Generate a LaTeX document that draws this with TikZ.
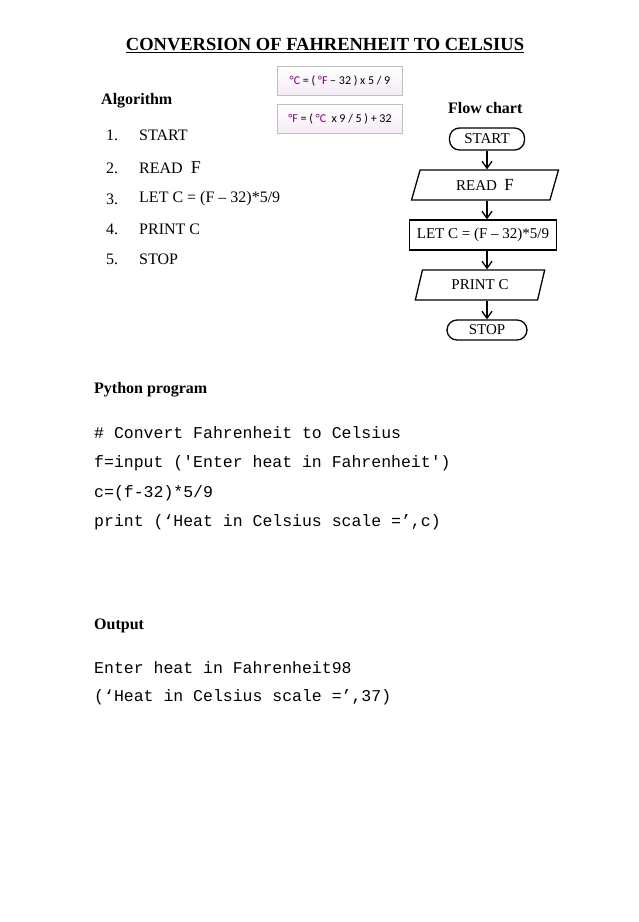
\documentclass[tikz,border=0pt]{standalone}
\usepackage{fontspec}
\setmainfont{Liberation Serif}
\setmonofont{Liberation Mono}
\newfontfamily\fsans{Carlito}
\usetikzlibrary{shapes.geometric,arrows.meta}
\begin{document}
\begin{tikzpicture}[x=1pt,y=-1pt,
  txt/.style={anchor=west,inner sep=0pt,font=\fontsize{16}{18}\selectfont},
  code/.style={anchor=west,inner sep=0pt,font=\ttfamily\fontsize{16.5}{18}\selectfont},
  head/.style={anchor=west,inner sep=0pt,font=\bfseries\fontsize{16}{18}\selectfont},
  term/.style={draw,line width=1.3pt,rounded corners=10pt,minimum height=22pt,font=\fontsize{15}{16}\selectfont,inner sep=2pt},
  io/.style={draw,line width=1.3pt,trapezium,trapezium left angle=75,trapezium right angle=105,trapezium stretches=true,font=\fontsize{15}{16}\selectfont,inner sep=2pt},
  proc/.style={draw,line width=1.3pt,font=\fontsize{15}{16}\selectfont,inner sep=2pt},
  arr/.style={-{Straight Barb[length=7pt,width=10pt,line width=1.3pt]},line width=1.3pt},
  fbox/.style={draw=gray!50,top color=white,bottom color=violet!8,minimum width=125pt,minimum height=29pt,font=\fsans\fontsize{12}{14}\selectfont}]
\useasboundingbox (0,0) rectangle (638,922);
\node[inner sep=0pt,font=\rmfamily\bfseries\fontsize{18.5}{21}\selectfont] (title) at (325,46) {\underline{CONVERSION OF FAHRENHEIT TO CELSIUS}};
\node[fbox] (f1) at (340,81) {\textcolor{violet}{°C} = ( \textcolor{violet}{°F} – 32 ) x 5 / 9};
\node[fbox] (f2) at (340,119) {\textcolor{violet}{°F} = ( \textcolor{violet}{°C}\ \ x 9 / 5 ) + 32};
\node[head] (alg) at (101,101) {Algorithm};
\node[head] (fc) at (448,108) {Flow chart};
\node[txt] (n1) at (106,135) {1.};\node[txt] (s1) at (139,135) {START};
\node[txt] (n2) at (106,168) {2.};\node[txt] (s2) at (139,168) {READ \ \fontsize{18}{18}\selectfont F};
\node[txt] (n3) at (106,199) {3.};\node[txt] (s3) at (139,199) {LET C = (F – 32)*5/9};
\node[txt] (n4) at (106,229) {4.};\node[txt] (s4) at (139,229) {PRINT C};
\node[txt] (n5) at (106,259) {5.};\node[txt] (s5) at (139,259) {STOP};
\node[term,minimum width=75pt] (start) at (487,139) {START};
\node[io,minimum width=147pt,minimum height=30pt] (read) at (485,185) {READ \ \fontsize{17}{17}\selectfont F};
\node[proc,minimum width=147pt,minimum height=30pt] (let) at (483,235) {LET C = (F – 32)*5/9};
\node[io,minimum width=130pt,minimum height=30pt] (print) at (480,285) {PRINT C};
\node[term,minimum width=80pt,minimum height=20pt] (stop) at (487,330) {STOP};
\draw[arr] (start.south) -- (start.south|-read.north);
\draw[arr] (read.south-|start.south) -- (let.north-|start.south);
\draw[arr] (let.south-|start.south) -- (print.north-|start.south);
\draw[arr] (print.south-|start.south) -- (stop.north-|start.south);
\node[head] (py) at (94,390) {Python program};
\node[code] (c1) at (94,433) {\# Convert Fahrenheit to Celsius};
\node[code] (c2) at (94,463) {f=input ('Enter heat in Fahrenheit')};
\node[code] (c3) at (94,493) {c=(f-32)*5/9};
\node[code] (c4) at (94,522) {print (‘Heat in Celsius scale =’,c)};
\node[head] (out) at (94,626) {Output};
\node[code] (o1) at (94,668) {Enter heat in Fahrenheit98};
\node[code] (o2) at (94,697) {(‘Heat in Celsius scale =’,37)};
\end{tikzpicture}
\end{document}
